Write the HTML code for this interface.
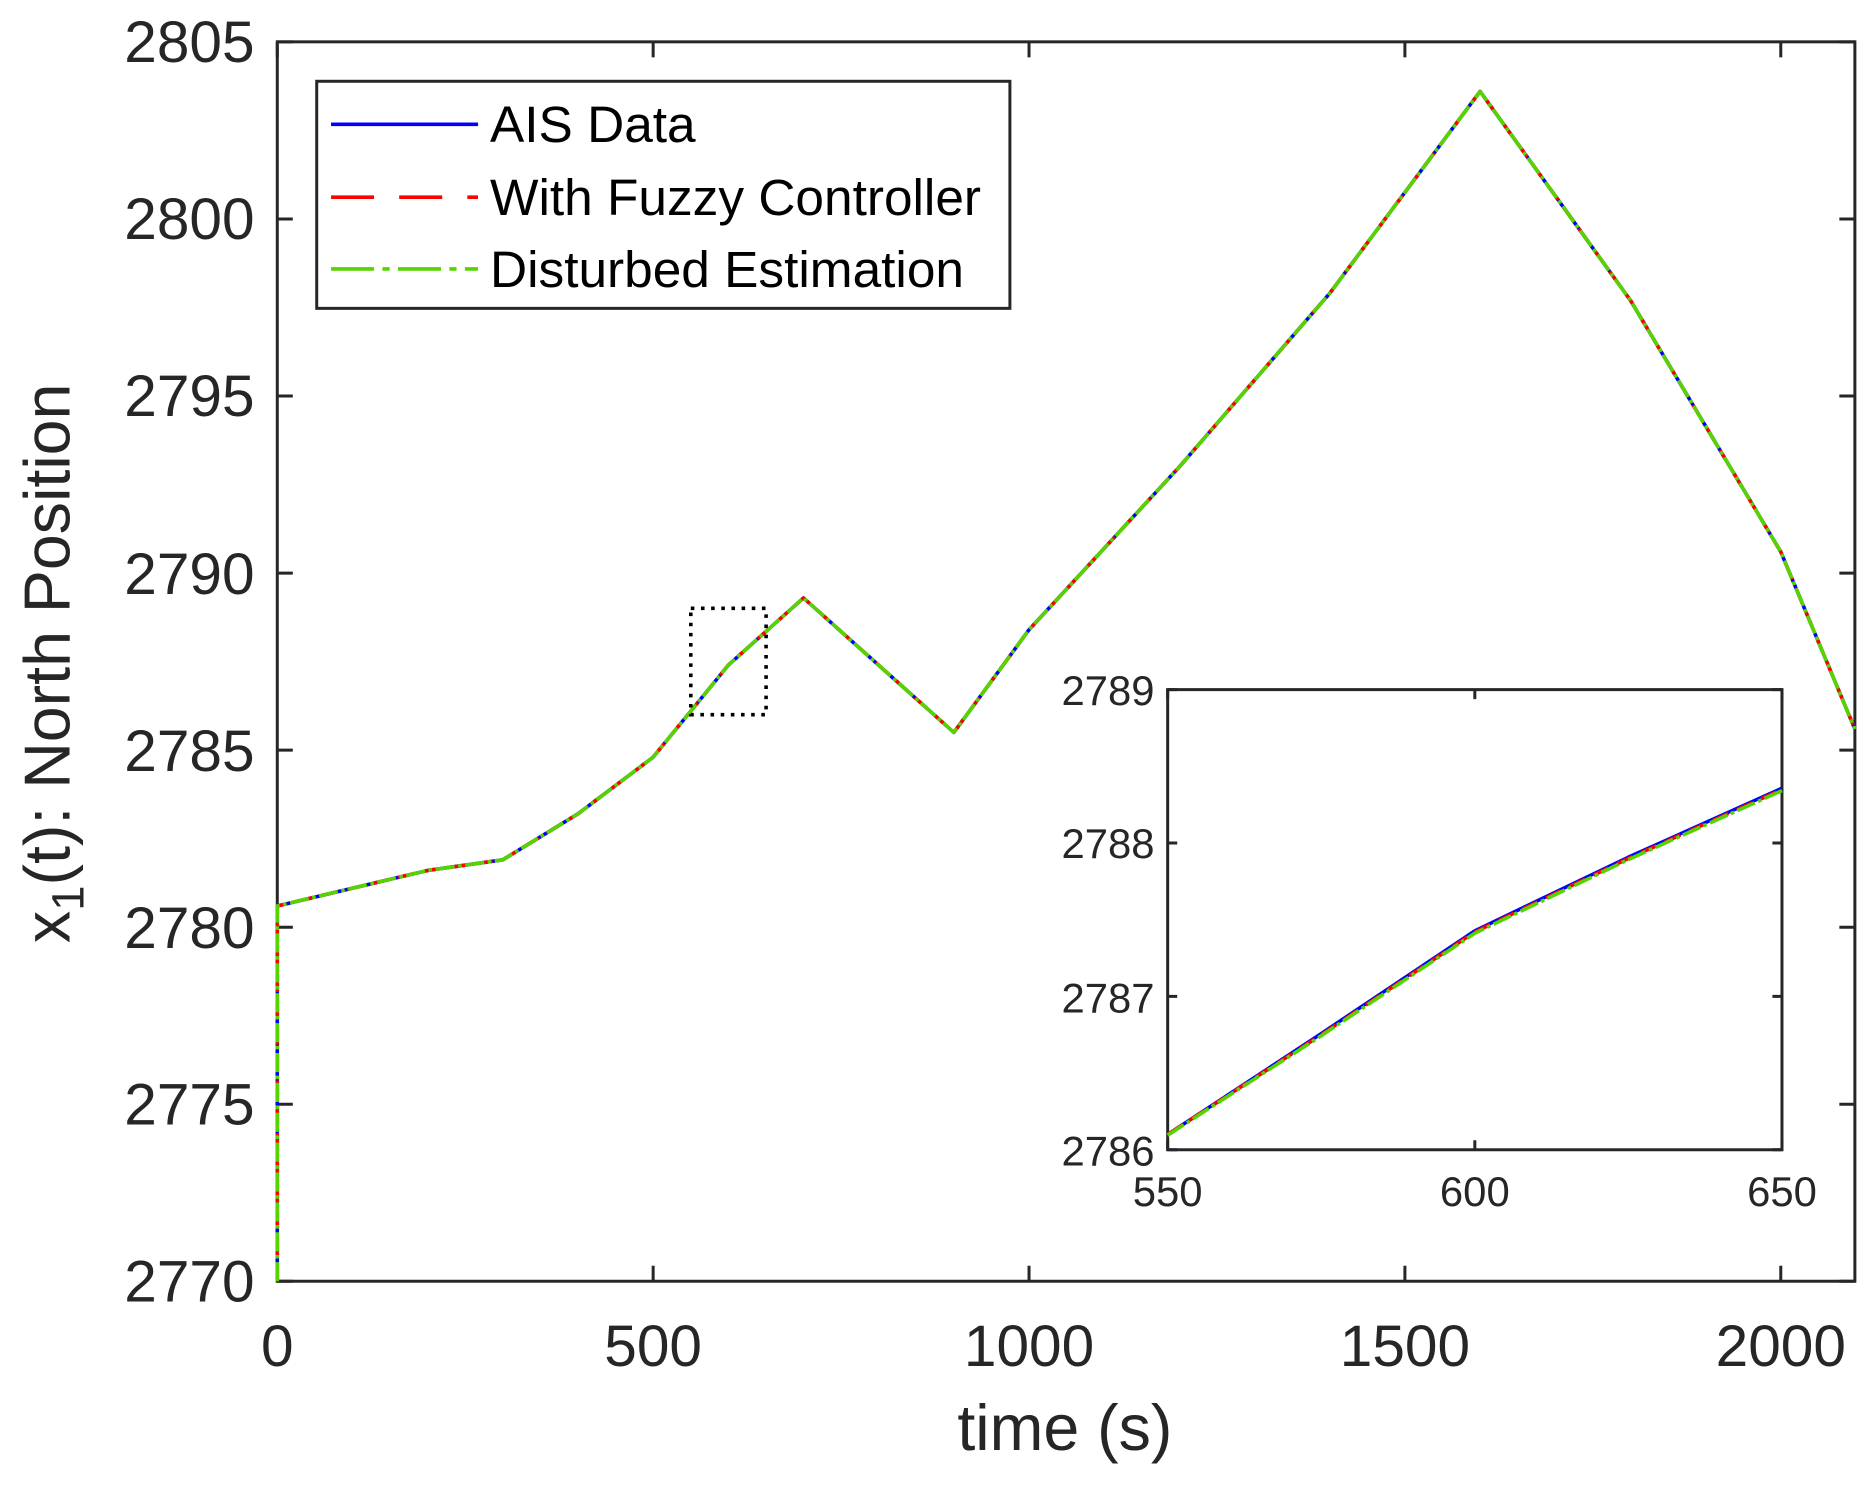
<!DOCTYPE html>
<html><head><meta charset="utf-8"><style>
html,body{margin:0;padding:0;background:#fff;}
svg{display:block;}
text{font-family:"Liberation Sans",Arial,sans-serif;fill:#262626;}
</style></head><body>
<svg width="1874" height="1488" viewBox="0 0 1568 1245" preserveAspectRatio="none" xmlns="http://www.w3.org/2000/svg">
<rect width="1568" height="1245" fill="#fff"/>
<rect x="232" y="35" width="1320" height="1037" fill="none" stroke="#262626" stroke-width="2.5"/>
<g stroke="#262626" stroke-width="2.5">
<path d="M232,1072v-13M546.5,1072v-13M861,1072v-13M1175.5,1072v-13M1490,1072v-13"/>
<path d="M232,35v13M546.5,35v13M861,35v13M1175.5,35v13M1490,35v13"/>
<path d="M232,35h13M232,183.2h13M232,331.3h13M232,479.5h13M232,627.6h13M232,775.8h13M232,923.9h13M232,1072h13"/>
<path d="M1552,35h-13M1552,183.2h-13M1552,331.3h-13M1552,479.5h-13M1552,627.6h-13M1552,775.8h-13M1552,923.9h-13M1552,1072h-13"/>
</g>
<g font-size="49" text-anchor="end">
<text x="213" y="52">2805</text>
<text x="213" y="200">2800</text>
<text x="213" y="348">2795</text>
<text x="213" y="497">2790</text>
<text x="213" y="645">2785</text>
<text x="213" y="793">2780</text>
<text x="213" y="941">2775</text>
<text x="213" y="1089">2770</text>
</g>
<g font-size="49" text-anchor="middle">
<text x="232" y="1143">0</text>
<text x="546.5" y="1143">500</text>
<text x="861" y="1143">1000</text>
<text x="1175.5" y="1143">1500</text>
<text x="1490" y="1143">2000</text>
</g>
<text x="891" y="1213" font-size="54" text-anchor="middle">time (s)</text>
<text transform="translate(58,555) rotate(-90)" font-size="54" text-anchor="middle">x<tspan font-size="38" dy="12">1</tspan><tspan dy="-12">(t): North Position</tspan></text>

<g fill="none" stroke-width="3" stroke-linejoin="round">
<path d="M232,1072 L232,758 L357.8,728.3 L420.7,719.4 L483.6,680.9 L546.5,633.5 L578,595 L609.4,556.5 L640.9,528.3 L672.3,500.3 L798.1,612.8 L861,526.9 L986.8,390.6 L1112.6,245.4 L1238.4,76.5 L1364.2,251.3 L1490,461.7 L1552,610" stroke="#0000ff"/>
<path d="M232,1072 L232,758 L357.8,728.3 L420.7,719.4 L483.6,680.9 L546.5,633.5 L578,595 L609.4,556.5 L640.9,528.3 L672.3,500.3 L798.1,612.8 L861,526.9 L986.8,390.6 L1112.6,245.4 L1238.4,76.5 L1364.2,251.3 L1490,461.7 L1552,610" stroke="#ff0000" stroke-dasharray="14 8"/>
<path d="M232,1072 L232,758 L357.8,728.3 L420.7,719.4 L483.6,680.9 L546.5,633.5 L578,595 L609.4,556.5 L640.9,528.3 L672.3,500.3 L798.1,612.8 L861,526.9 L986.8,390.6 L1112.6,245.4 L1238.4,76.5 L1364.2,251.3 L1490,461.7 L1552,610" stroke="#55d400" stroke-dasharray="16 3 3 3"/>
</g>
<rect x="578" y="509" width="63" height="89" fill="none" stroke="#000" stroke-width="3" stroke-dasharray="3 5.5"/>

<rect x="265" y="68" width="580" height="190" fill="#fff" stroke="#262626" stroke-width="2.5"/>
<line x1="277" y1="104" x2="400" y2="104" stroke="#0000ff" stroke-width="3"/>
<line x1="277" y1="165" x2="400" y2="165" stroke="#ff0000" stroke-width="3" stroke-dasharray="36 21"/>
<line x1="277" y1="225" x2="400" y2="225" stroke="#55d400" stroke-width="3" stroke-dasharray="36 7 6 7"/>
<g font-size="43">
<text x="410" y="119" style="fill:#000">AIS Data</text>
<text x="410" y="180" style="fill:#000">With Fuzzy Controller</text>
<text x="410" y="240" style="fill:#000">Disturbed Estimation</text>
</g>

<rect x="977" y="577" width="514" height="385" fill="#fff" stroke="#262626" stroke-width="2.5"/>
<g stroke="#262626" stroke-width="2.5">
<path d="M977,962v-8M1234,962v-8M1491,962v-8M977,577v8M1234,577v8M1491,577v8"/>
<path d="M977,577h8M977,705.3h8M977,833.7h8M977,962h8M1491,577h-8M1491,705.3h-8M1491,833.7h-8M1491,962h-8"/>
</g>
<g font-size="35" text-anchor="end">
<text x="966" y="590">2789</text>
<text x="966" y="718">2788</text>
<text x="966" y="847">2787</text>
<text x="966" y="975">2786</text>
</g>
<g font-size="35" text-anchor="middle">
<text x="977" y="1009">550</text>
<text x="1234" y="1009">600</text>
<text x="1491" y="1009">650</text>
</g>
<g fill="none" stroke-width="3" stroke-linejoin="round">
<path d="M977,949.2 L1105.5,864.8 L1234,778.8 L1362.5,717.2 L1491,659.5" stroke="#0000ff"/>
<path d="M977,949.2 L1105.5,865.8 L1234,779.8 L1362.5,718.2 L1491,660.5" stroke="#ff0000" stroke-dasharray="14 8"/>
<path d="M977,949.8 L1105.5,866.6 L1234,780.8 L1362.5,719.2 L1491,661.5" stroke="#55d400" stroke-dasharray="16 3 3 3"/>
</g>
</svg>
</body></html>
